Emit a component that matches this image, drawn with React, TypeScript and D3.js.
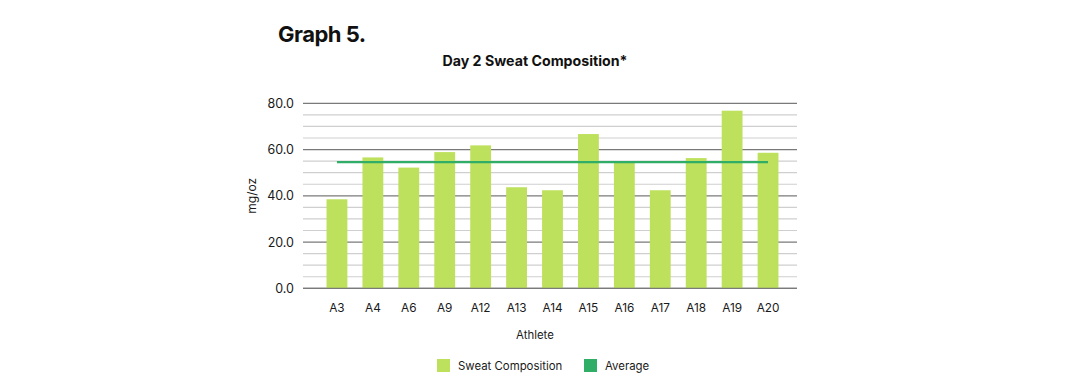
import React, { useEffect, useRef } from "react";
import * as d3 from "d3";

// Data
const athletes = ["A3", "A4", "A6", "A9", "A12", "A13", "A14", "A15", "A16", "A17", "A18", "A19", "A20"];
const sweatValues = [38.5, 56.6, 52.2, 58.9, 61.8, 43.7, 42.4, 66.7, 54.3, 42.4, 56.3, 76.8, 58.6];
const averageValue = 54.6;
const majorTicks = [0, 20, 40, 60, 80];
const minorTicks = d3.range(0, 81, 5);

const BAR_COLOR = "#bde15c";
const AVG_COLOR = "#30ad67";
const FONT = "Inter, 'Noto Sans', sans-serif";

export default function App() {
  const chartRef = useRef<SVGSVGElement | null>(null);

  useEffect(() => {
    const svg = d3.select(chartRef.current);
    svg.selectAll("*").remove();

    const gridLeft = 303;
    const gridRight = 797;

    // Scales
    const x = d3.scaleBand().domain(athletes).range([319, 786]).paddingInner(0.42).paddingOuter(0.21);
    const y = d3.scaleLinear().domain([0, 80]).range([288.3, 103.3]);

    // Minor gridlines
    svg
      .append("g")
      .selectAll("line")
      .data(minorTicks.filter((t) => t % 20 !== 0))
      .join("line")
      .attr("x1", gridLeft)
      .attr("x2", gridRight)
      .attr("y1", (d) => y(d))
      .attr("y2", (d) => y(d))
      .attr("stroke", "#cfcfcf")
      .attr("stroke-width", 1.2);

    // Major gridlines
    svg
      .append("g")
      .selectAll("line")
      .data(majorTicks)
      .join("line")
      .attr("x1", gridLeft)
      .attr("x2", gridRight)
      .attr("y1", (d) => y(d))
      .attr("y2", (d) => y(d))
      .attr("stroke", "#7a7a7a")
      .attr("stroke-width", 1.2);

    // Bars
    svg
      .append("g")
      .selectAll("rect")
      .data(sweatValues)
      .join("rect")
      .attr("x", (d, i) => x(athletes[i]) as number)
      .attr("width", x.bandwidth())
      .attr("y", (d) => y(d))
      .attr("height", (d) => y(0) - y(d))
      .attr("fill", BAR_COLOR);

    // Baseline redrawn on top of bars
    svg
      .append("line")
      .attr("x1", gridLeft)
      .attr("x2", gridRight)
      .attr("y1", y(0))
      .attr("y2", y(0))
      .attr("stroke", "#7a7a7a")
      .attr("stroke-width", 1.2);

    // Average line
    const avgLine = d3
      .line<string>()
      .x((d) => (x(d) as number) + x.bandwidth() / 2)
      .y(() => y(averageValue));
    svg
      .append("path")
      .datum([athletes[0], athletes[athletes.length - 1]])
      .attr("d", avgLine)
      .attr("fill", "none")
      .attr("stroke", AVG_COLOR)
      .attr("stroke-width", 2.2);

    // Y tick labels
    svg
      .append("g")
      .selectAll("text")
      .data(majorTicks)
      .join("text")
      .attr("x", 294)
      .attr("y", (d) => y(d) + 4.5)
      .attr("text-anchor", "end")
      .attr("font-family", FONT)
      .attr("font-size", 12.5)
      .attr("fill", "#1a1a1a")
      .text((d) => d.toFixed(1));

    // X tick labels
    svg
      .append("g")
      .selectAll("text")
      .data(athletes)
      .join("text")
      .attr("x", (d) => (x(d) as number) + x.bandwidth() / 2)
      .attr("y", 312)
      .attr("text-anchor", "middle")
      .attr("font-family", FONT)
      .attr("font-size", 11.8)
      .attr("fill", "#1a1a1a")
      .text((d) => d);

    // Axis titles
    svg
      .append("text")
      .attr("transform", `translate(256, ${y(40)}) rotate(-90)`)
      .attr("text-anchor", "middle")
      .attr("font-family", FONT)
      .attr("font-size", 12)
      .attr("fill", "#1a1a1a")
      .text("mg/oz");

    svg
      .append("text")
      .attr("x", 535)
      .attr("y", 339)
      .attr("text-anchor", "middle")
      .attr("font-family", FONT)
      .attr("font-size", 11.4)
      .attr("fill", "#1a1a1a")
      .text("Athlete");

    // Titles
    svg
      .append("text")
      .attr("x", 278)
      .attr("y", 42)
      .attr("font-family", FONT)
      .attr("font-size", 22)
      .attr("font-weight", 700)
      .attr("letter-spacing", -0.5)
      .attr("fill", "#111")
      .text("Graph 5.");

    svg
      .append("text")
      .attr("x", 535)
      .attr("y", 66)
      .attr("text-anchor", "middle")
      .attr("font-family", FONT)
      .attr("font-size", 14.2)
      .attr("font-weight", 700)
      .attr("fill", "#111")
      .text("Day 2 Sweat Composition*");

    // Legend
    const legend = [
      { label: "Sweat Composition", color: BAR_COLOR, x: 437 },
      { label: "Average", color: AVG_COLOR, x: 584 },
    ];
    const lg = svg.append("g").selectAll("g").data(legend).join("g");
    lg.append("rect")
      .attr("x", (d) => d.x)
      .attr("y", 359)
      .attr("width", 13)
      .attr("height", 13)
      .attr("fill", (d) => d.color);
    lg.append("text")
      .attr("x", (d) => d.x + 21)
      .attr("y", 370)
      .attr("font-family", FONT)
      .attr("font-size", 11.4)
      .attr("fill", "#1a1a1a")
      .text((d) => d.label);
  }, []);

  return (
    <div style={{ position: "absolute", left: 0, top: 0 }}>
      <svg ref={chartRef} width={1080} height={389} style={{ display: "block", background: "#fff" }}></svg>
    </div>
  );
}
